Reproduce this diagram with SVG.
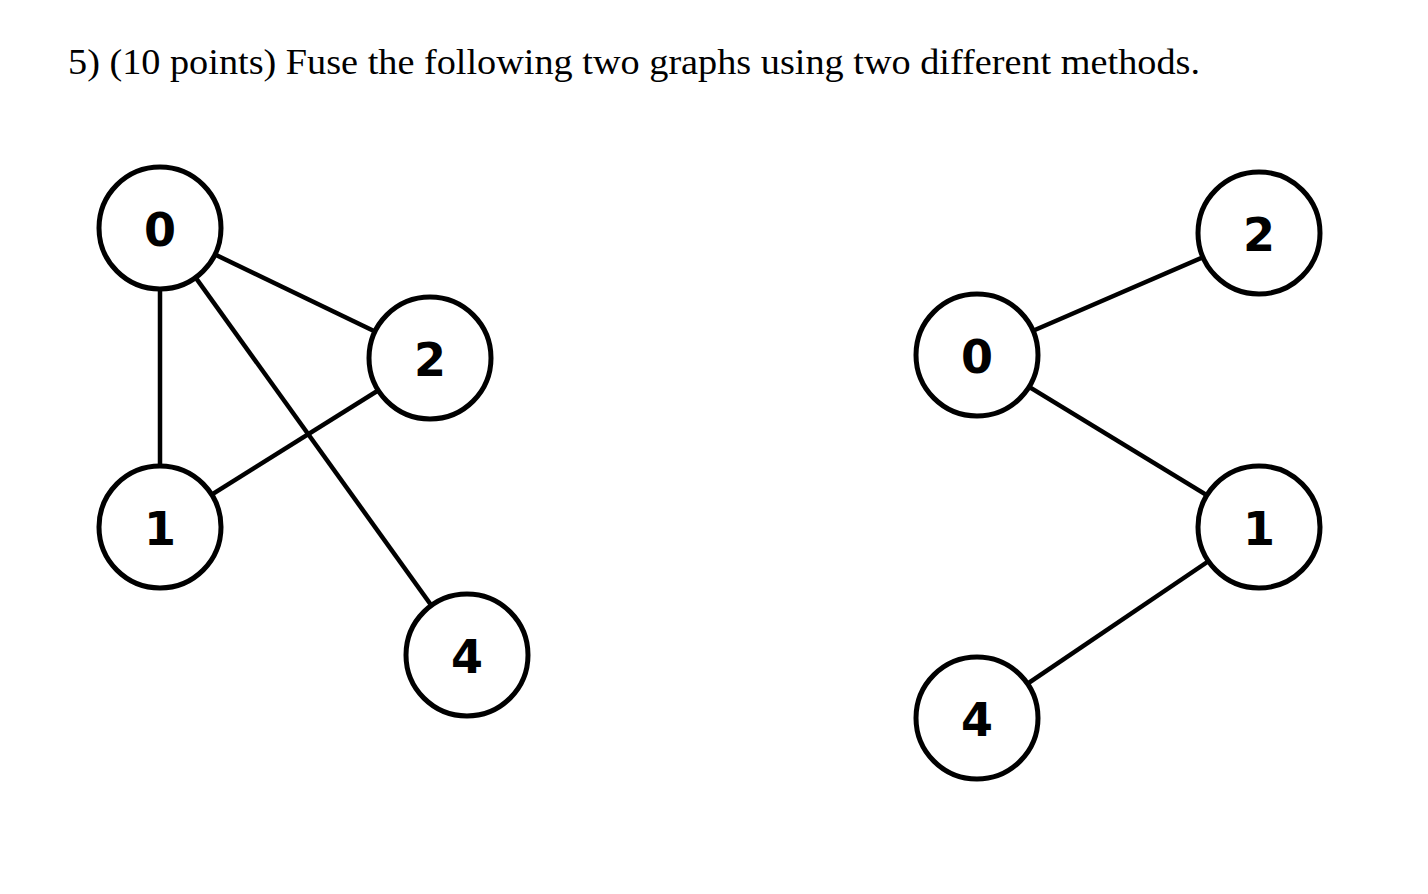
<svg xmlns="http://www.w3.org/2000/svg" width="1428" height="894" viewBox="0 0 1428 894">
<style>
.n{fill:#fff;stroke:#000;stroke-width:5}
.l{font-family:"DejaVu Sans","Liberation Sans",sans-serif;font-weight:bold;font-size:46px;text-anchor:middle;dominant-baseline:central}
.e{stroke:#000;stroke-width:4.5}
</style>
<rect width="1428" height="894" fill="#fff"/>
<text x="68" y="74" font-family="Liberation Serif, serif" font-size="36" textLength="1132" lengthAdjust="spacingAndGlyphs">5) (10 points) Fuse the following two graphs using two different methods.</text>
<g id="connectors">
<line class="e" x1="160" y1="228" x2="430" y2="358"/>
<line class="e" x1="160" y1="228" x2="160" y2="527"/>
<line class="e" x1="160" y1="228" x2="467" y2="655"/>
<line class="e" x1="160" y1="527" x2="430" y2="358"/>
<line class="e" x1="977" y1="355" x2="1259" y2="233"/>
<line class="e" x1="977" y1="355" x2="1259" y2="527"/>
<line class="e" x1="1259" y1="527" x2="977" y2="718"/>
</g>
<g id="L0"><circle class="n" cx="160" cy="228" r="61"/><text class="l" x="160" y="230">0</text></g>
<g id="L2"><circle class="n" cx="430" cy="358" r="61"/><text class="l" x="430" y="360">2</text></g>
<g id="L1"><circle class="n" cx="160" cy="527" r="61"/><text class="l" x="160" y="529">1</text></g>
<g id="L4"><circle class="n" cx="467" cy="655" r="61"/><text class="l" x="467" y="657">4</text></g>
<g id="R2"><circle class="n" cx="1259" cy="233" r="61"/><text class="l" x="1259" y="235">2</text></g>
<g id="R0"><circle class="n" cx="977" cy="355" r="61"/><text class="l" x="977" y="357">0</text></g>
<g id="R1"><circle class="n" cx="1259" cy="527" r="61"/><text class="l" x="1259" y="529">1</text></g>
<g id="R4"><circle class="n" cx="977" cy="718" r="61"/><text class="l" x="977" y="720">4</text></g>
</svg>
